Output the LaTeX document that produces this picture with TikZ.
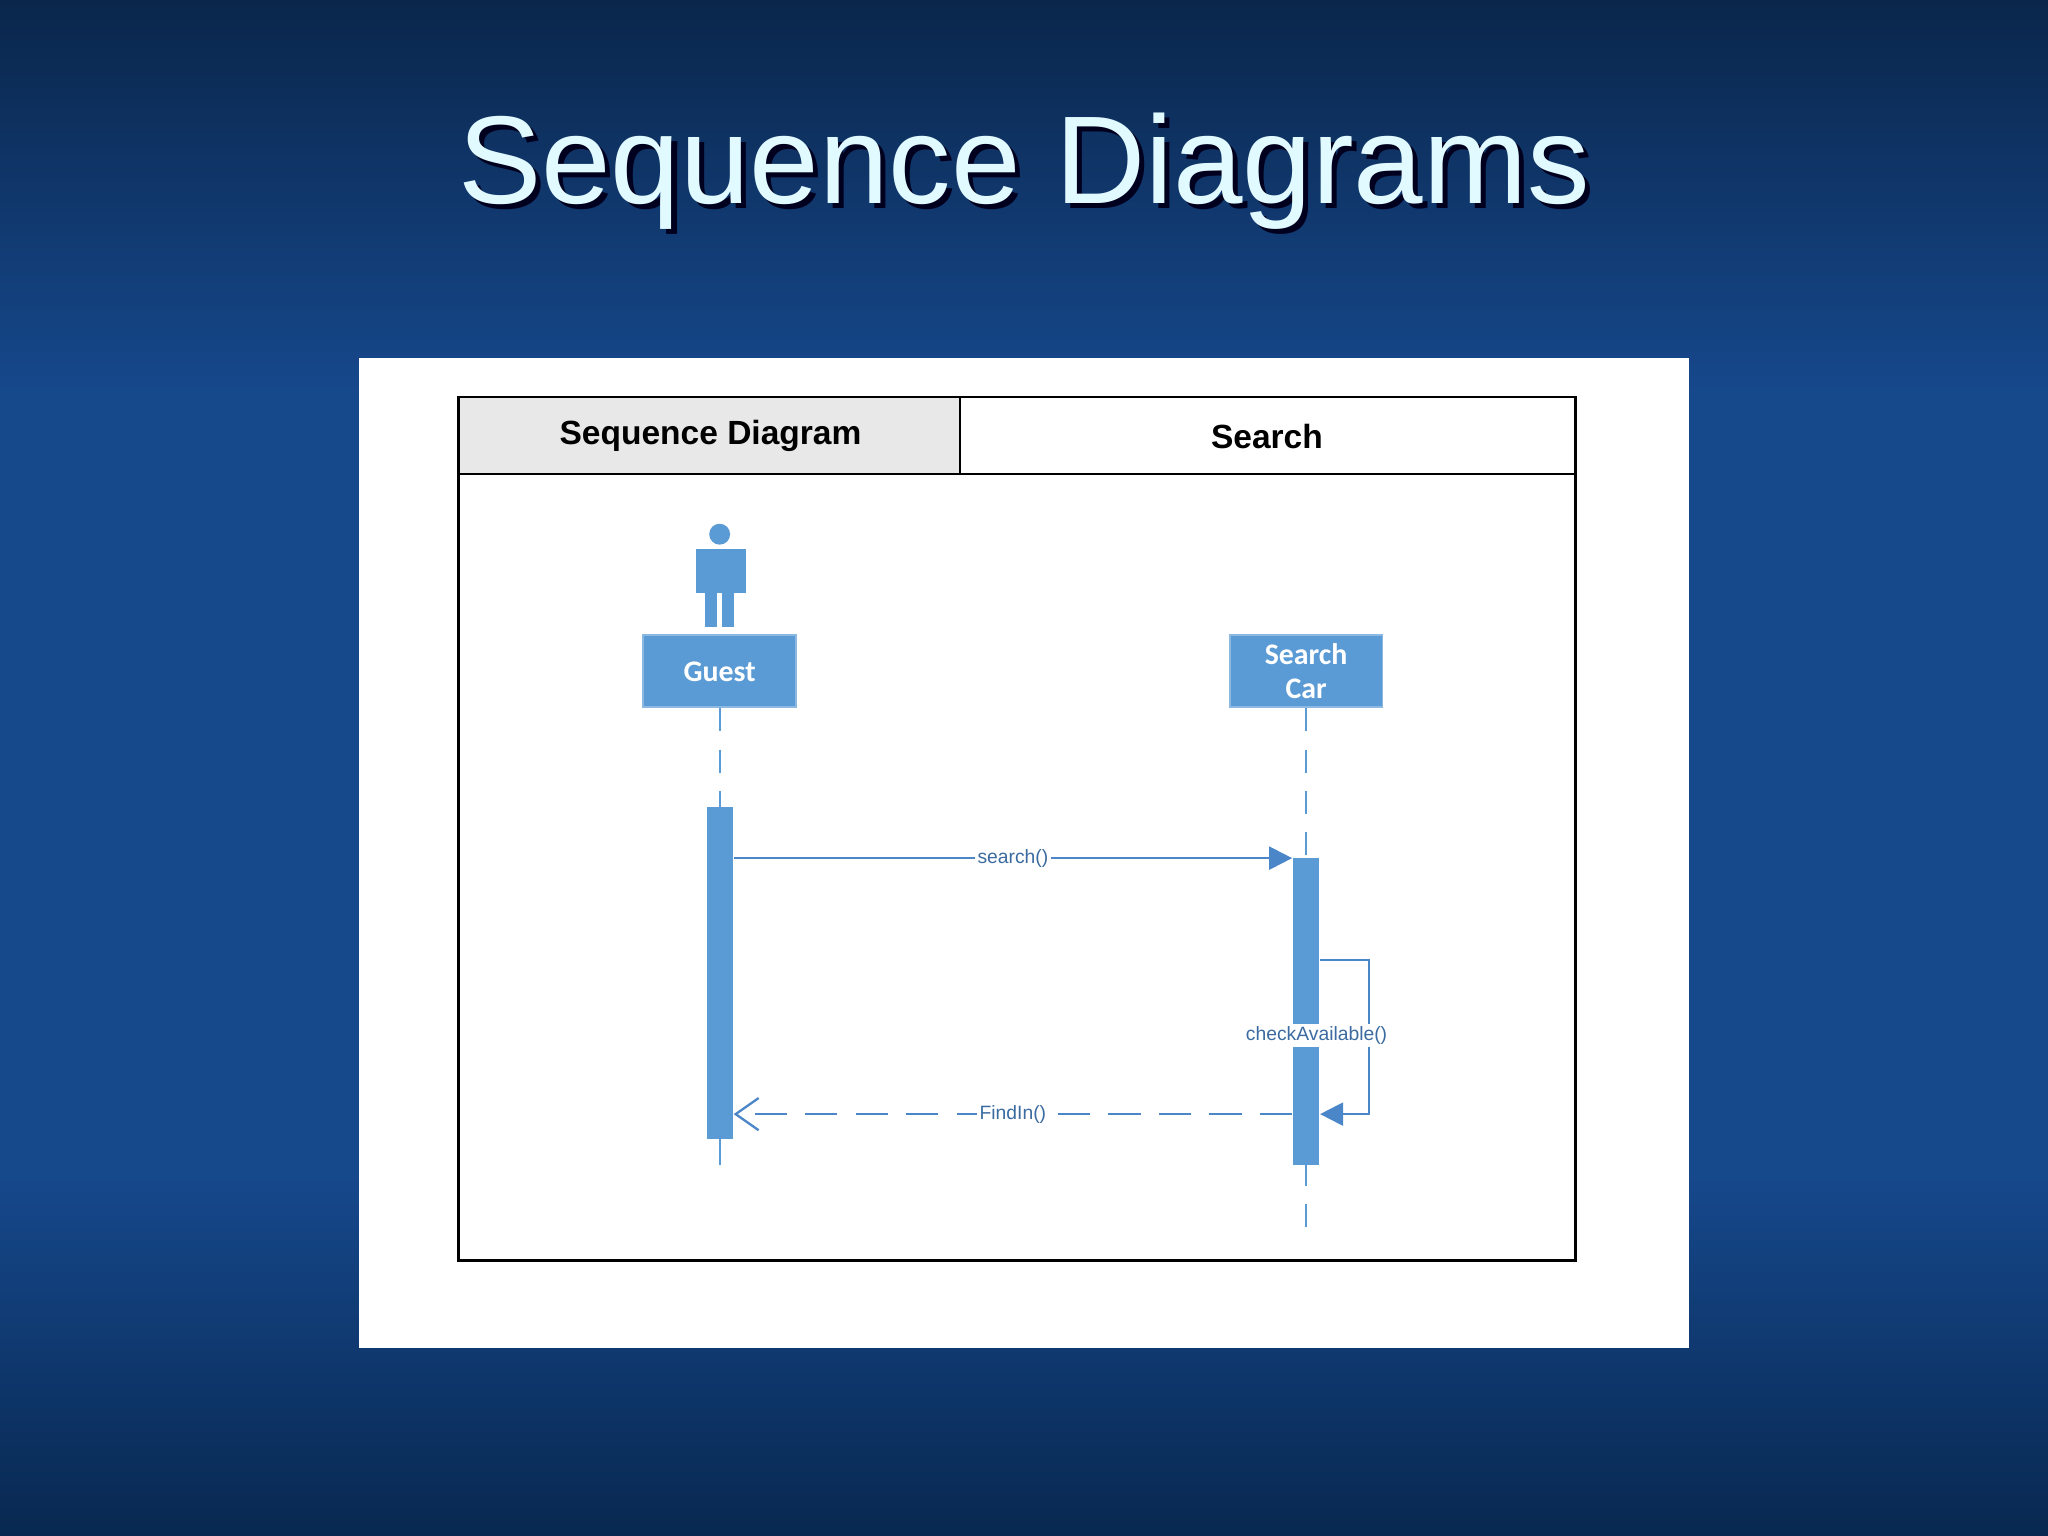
\documentclass[tikz,border=0pt]{standalone}
\usepackage{fontspec}
\setmainfont{Liberation Sans}
\newfontfamily\boxfont{Carlito}
\usetikzlibrary{arrows.meta,shadings}
\definecolor{uml}{HTML}{5B9BD5}
\definecolor{umlline}{HTML}{4A86C8}
\definecolor{bgmid}{RGB}{22,72,140}
\definecolor{bgtop}{RGB}{10,38,75}
\definecolor{bgbot}{RGB}{8,40,80}
\definecolor{titlefg}{RGB}{225,250,255}
\definecolor{titlesh}{RGB}{0,0,30}
\begin{document}
\begin{tikzpicture}[x=0.01cm,y=-0.01cm,
  obj/.style={draw=uml!70!white,fill=uml,minimum width=1.17cm,minimum height=0.55cm,text=white,font=\boxfont\bfseries\fontsize{6.5}{7.5}\selectfont,align=center,inner sep=0pt},
  act/.style={fill=uml,draw=none,minimum width=0.2cm,inner sep=0pt},
  life/.style={uml,dash pattern=on 5pt off 4pt,line width=0.5pt},
  msg/.style={font=\fontsize{4.2}{5}\selectfont,text=umlline!80!black,fill=white,inner sep=0.5pt}]
\useasboundingbox (0,0) rectangle (1568,1176);
\shade[top color=bgtop, bottom color=bgmid] (0,0) rectangle (1568,300);
\fill[bgmid] (0,300) rectangle (1568,900);
\shade[top color=bgmid, bottom color=bgbot] (0,900) rectangle (1568,1176);
\node[text=titlesh,font=\fontsize{27.2}{32}\selectfont] at (788,135) {Sequence Diagrams};
\node[text=titlefg,font=\fontsize{27.2}{32}\selectfont] (title) at (784,131) {Sequence Diagrams};
\fill[white] (275,274) rectangle (1293,1032);
\fill[black!9] (351,304) rectangle (735,363);
\draw[line width=0.6pt] (351,304) rectangle (1206,965);
\draw[line width=0.6pt] (351,363) -- (1206,363) (735,304) -- (735,363);
\node[font=\bfseries\fontsize{7.3}{9}\selectfont] (h1) at (544,334) {Sequence Diagram};
\node[font=\bfseries\fontsize{7.3}{9}\selectfont] (h2) at (970,334) {Search};
% actor
\fill[uml] (551,409) circle (8);
\fill[uml] (533,420) rectangle (571,454);
\fill[uml] (540,454) rectangle (549,480);
\fill[uml] (553,454) rectangle (562,480);
\node[obj] (guest) at (551,514) {Guest};
\node[obj] (car) at (1000,514) {Search\\Car};
\coordinate (gend) at (551,892);
\coordinate (gmid) at (551,876);
\coordinate (cend) at (1000,945);
\draw[life] (guest.south) -- (gend);
\draw[uml,line width=0.5pt] (gmid) -- (gend);
\draw[life] (car.south) -- (cend);
\node[act,minimum height=2.54cm] (ga) at (551,745) {};
\node[act,minimum height=2.35cm] (ca) at (1000,774.5) {};
\coordinate (s1) at (ga.east|-0,657);
\coordinate (s2) at (ca.west|-0,657);
\draw[umlline,line width=0.5pt,-{Triangle[length=5pt,width=5pt]}] (s1) -- (s2) node[msg,midway] {search()};
\coordinate (c1) at (ca.east|-0,735);
\coordinate (c2) at (ca.east|-0,853);
\draw[umlline,line width=0.5pt,-{Triangle[length=5pt,width=5pt]}] (c1) -- (1048,735) -- (1048,853) -- (c2);
\node[msg] (ck) at (1008,793) {checkAvailable()};
\coordinate (f1) at (ca.west|-0,853);
\coordinate (f2) at (ga.east|-0,853);
\draw[umlline,line width=0.5pt,dash pattern=on 7pt off 4pt,-{Straight Barb[length=5pt,width=7pt]}] (f1) -- (f2) node[msg,midway] {FindIn()};
\end{tikzpicture}
\end{document}
